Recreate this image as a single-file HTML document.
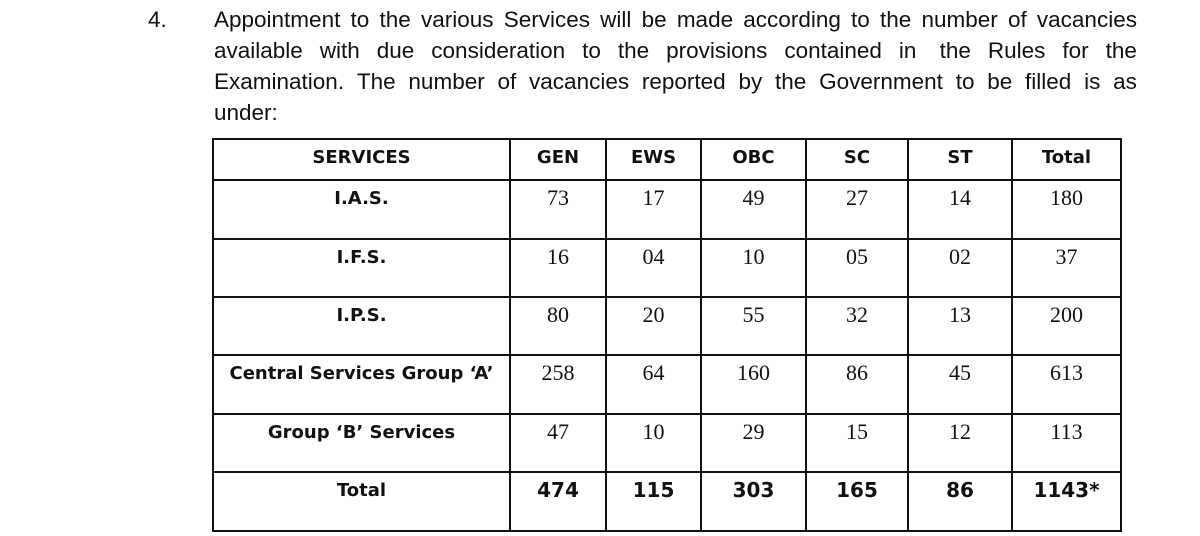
<!DOCTYPE html>
<html><head><meta charset="utf-8"><style>
body{margin:0;width:1200px;height:536px;background:#fff;position:relative;overflow:hidden;font-family:"Liberation Sans",sans-serif;color:#111}
.ln{position:absolute;left:214px;width:923px;font-size:22.5px;line-height:31px;white-space:nowrap;}
.h{position:absolute;background:#111}
.c{position:absolute;text-align:center}
.b{font-weight:bold;font-family:"DejaVu Sans","Liberation Sans",sans-serif;font-size:18px}
.s{font-family:"Liberation Serif",serif;font-size:22px}
.bt{font-weight:bold;font-family:"DejaVu Sans","Liberation Sans",sans-serif;font-size:20px}
</style></head><body>
<div style="position:absolute;left:148px;top:4px;font-size:22.5px;line-height:31px">4.</div>
<div class="ln" style="top:4px;display:flex;justify-content:space-between"><span>Appointment</span><span>to</span><span>the</span><span>various</span><span>Services</span><span>will</span><span>be</span><span>made</span><span>according</span><span>to</span><span>the</span><span>number</span><span>of</span><span>vacancies</span></div>
<div class="ln" style="top:35px;display:flex;justify-content:space-between"><span>available</span><span>with</span><span>due</span><span>consideration</span><span>to</span><span>the</span><span>provisions</span><span>contained</span><span>in</span><span>&nbsp;the</span><span>Rules</span><span>for</span><span>the</span></div>
<div class="ln" style="top:66px;display:flex;justify-content:space-between"><span>Examination.</span><span>The</span><span>number</span><span>of</span><span>vacancies</span><span>reported</span><span>by</span><span>the</span><span>Government</span><span>to</span><span>be</span><span>filled</span><span>is</span><span>as</span></div>
<div class="ln" style="top:97px">under:</div>
<div id="t"></div>
<script>
var xs=[213,510,606,701,806,908,1012,1121];
var ys=[139,180,239,297,355,414,472,531];
var t=document.getElementById('t'),h='';
xs.forEach(function(x){h+='<div class="h" style="left:'+(x-1)+'px;top:139px;width:2px;height:393px"></div>';});
ys.forEach(function(y){h+='<div class="h" style="left:212px;top:'+(y-1)+'px;width:910px;height:2px"></div>';});
var rows=[["SERVICES","GEN","EWS","OBC","SC","ST","Total"],
["I.A.S.","73","17","49","27","14","180"],
["I.F.S.","16","04","10","05","02","37"],
["I.P.S.","80","20","55","32","13","200"],
["Central Services Group ‘A’","258","64","160","86","45","613"],
["Group ‘B’ Services","47","10","29","15","12","113"],
["Total","474","115","303","165","86","1143*"]];
rows.forEach(function(r,i){r.forEach(function(v,j){
 var cls=(i==0||j==0)?'b':'s';
 if(i==6&&j>0)cls='bt';
 var top=ys[i]+(cls=='s'?5:(cls=='bt'?6:8));
 h+='<div class="c '+cls+'" style="left:'+xs[j]+'px;width:'+(xs[j+1]-xs[j])+'px;top:'+top+'px">'+v+'</div>';
});});
t.innerHTML=h;
</script>
</body></html>
